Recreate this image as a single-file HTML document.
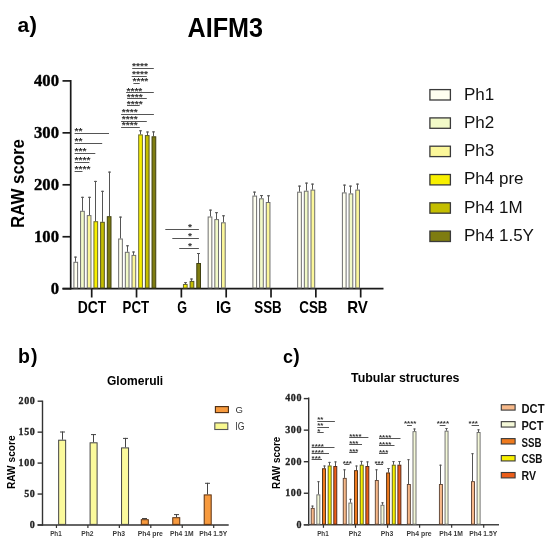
<!DOCTYPE html>
<html><head><meta charset="utf-8"><title>AIFM3</title>
<style>
html,body{margin:0;padding:0;background:#fff;}
body{width:550px;height:546px;overflow:hidden;}
svg{display:block;font-family:"Liberation Sans", sans-serif;}
</style></head><body>
<svg width="550" height="546" viewBox="0 0 550 546">
<rect x="0" y="0" width="550" height="546" fill="#fff"/>
<text x="17.6" y="32.0" font-weight="bold"><tspan font-size="21">a</tspan><tspan font-size="22.5" dx="0.3">)</tspan></text>
<text x="187.50" y="37.30" font-size="27.5" font-weight="bold" text-anchor="start" fill="#000" textLength="75.50" lengthAdjust="spacingAndGlyphs" >AIFM3</text>
<line x1="70.70" y1="80.00" x2="70.70" y2="289.50" stroke="#1a1a1a" stroke-width="1.7"/>
<line x1="62.50" y1="288.70" x2="70.70" y2="288.70" stroke="#1a1a1a" stroke-width="1.7"/>
<text transform="translate(59.00,293.90) scale(1.04,1.0)" x="0" y="0" font-size="16" font-weight="bold" text-anchor="end" fill="#000" font-family="'Liberation Serif', serif" stroke="#000" stroke-width="0.35">0</text>
<line x1="62.50" y1="236.75" x2="70.70" y2="236.75" stroke="#1a1a1a" stroke-width="1.7"/>
<text transform="translate(59.00,241.95) scale(1.04,1.0)" x="0" y="0" font-size="16" font-weight="bold" text-anchor="end" fill="#000" font-family="'Liberation Serif', serif" stroke="#000" stroke-width="0.35">100</text>
<line x1="62.50" y1="184.80" x2="70.70" y2="184.80" stroke="#1a1a1a" stroke-width="1.7"/>
<text transform="translate(59.00,190.00) scale(1.04,1.0)" x="0" y="0" font-size="16" font-weight="bold" text-anchor="end" fill="#000" font-family="'Liberation Serif', serif" stroke="#000" stroke-width="0.35">200</text>
<line x1="62.50" y1="132.85" x2="70.70" y2="132.85" stroke="#1a1a1a" stroke-width="1.7"/>
<text transform="translate(59.00,138.05) scale(1.04,1.0)" x="0" y="0" font-size="16" font-weight="bold" text-anchor="end" fill="#000" font-family="'Liberation Serif', serif" stroke="#000" stroke-width="0.35">300</text>
<line x1="62.50" y1="80.90" x2="70.70" y2="80.90" stroke="#1a1a1a" stroke-width="1.7"/>
<text transform="translate(59.00,86.10) scale(1.04,1.0)" x="0" y="0" font-size="16" font-weight="bold" text-anchor="end" fill="#000" font-family="'Liberation Serif', serif" stroke="#000" stroke-width="0.35">400</text>
<line x1="62.50" y1="288.70" x2="383.50" y2="288.70" stroke="#1a1a1a" stroke-width="1.7"/>
<line x1="91.70" y1="288.70" x2="91.70" y2="297.50" stroke="#1a1a1a" stroke-width="1.7"/>
<text x="92.00" y="312.70" font-size="17" font-weight="bold" text-anchor="middle" fill="#000" textLength="28.60" lengthAdjust="spacingAndGlyphs" >DCT</text>
<line x1="136.53" y1="288.70" x2="136.53" y2="297.50" stroke="#1a1a1a" stroke-width="1.7"/>
<text x="135.80" y="312.70" font-size="17" font-weight="bold" text-anchor="middle" fill="#000" textLength="26.50" lengthAdjust="spacingAndGlyphs" >PCT</text>
<line x1="181.36" y1="288.70" x2="181.36" y2="297.50" stroke="#1a1a1a" stroke-width="1.7"/>
<text x="182.20" y="312.70" font-size="17" font-weight="bold" text-anchor="middle" fill="#000" textLength="9.80" lengthAdjust="spacingAndGlyphs" >G</text>
<line x1="226.19" y1="288.70" x2="226.19" y2="297.50" stroke="#1a1a1a" stroke-width="1.7"/>
<text x="223.60" y="312.70" font-size="17" font-weight="bold" text-anchor="middle" fill="#000" textLength="15.40" lengthAdjust="spacingAndGlyphs" >IG</text>
<line x1="271.02" y1="288.70" x2="271.02" y2="297.50" stroke="#1a1a1a" stroke-width="1.7"/>
<text x="268.00" y="312.70" font-size="17" font-weight="bold" text-anchor="middle" fill="#000" textLength="27.50" lengthAdjust="spacingAndGlyphs" >SSB</text>
<line x1="315.85" y1="288.70" x2="315.85" y2="297.50" stroke="#1a1a1a" stroke-width="1.7"/>
<text x="313.40" y="312.70" font-size="17" font-weight="bold" text-anchor="middle" fill="#000" textLength="28.20" lengthAdjust="spacingAndGlyphs" >CSB</text>
<line x1="360.68" y1="288.70" x2="360.68" y2="297.50" stroke="#1a1a1a" stroke-width="1.7"/>
<text x="357.50" y="312.70" font-size="17" font-weight="bold" text-anchor="middle" fill="#000" textLength="20.70" lengthAdjust="spacingAndGlyphs" >RV</text>
<text transform="translate(23.8,183.5) rotate(-90)" x="0" y="0" font-size="17.5" font-weight="bold" text-anchor="middle" textLength="89" lengthAdjust="spacingAndGlyphs">RAW score</text>
<line x1="75.50" y1="261.80" x2="75.50" y2="256.60" stroke="#555" stroke-width="1.0"/>
<line x1="74.00" y1="257.10" x2="77.00" y2="257.10" stroke="#555" stroke-width="1.0"/>
<rect x="73.90" y="262.30" width="3.70" height="25.60" fill="#fffff0" stroke="#6e6e6e" stroke-width="1.0"/>
<line x1="82.50" y1="210.80" x2="82.50" y2="196.80" stroke="#555" stroke-width="1.0"/>
<line x1="81.00" y1="197.30" x2="84.00" y2="197.30" stroke="#555" stroke-width="1.0"/>
<rect x="80.58" y="211.30" width="3.70" height="76.60" fill="#f2fac8" stroke="#6e6e6e" stroke-width="1.0"/>
<line x1="89.50" y1="215.10" x2="89.50" y2="196.80" stroke="#555" stroke-width="1.0"/>
<line x1="88.00" y1="197.30" x2="91.00" y2="197.30" stroke="#555" stroke-width="1.0"/>
<rect x="87.26" y="215.60" width="3.70" height="72.30" fill="#fbf79a" stroke="#6e6e6e" stroke-width="1.0"/>
<line x1="95.50" y1="221.20" x2="95.50" y2="180.90" stroke="#555" stroke-width="1.0"/>
<line x1="94.00" y1="181.40" x2="97.00" y2="181.40" stroke="#555" stroke-width="1.0"/>
<rect x="93.94" y="221.70" width="3.70" height="66.20" fill="#f8f000" stroke="#6a6a30" stroke-width="1.0"/>
<line x1="102.50" y1="221.80" x2="102.50" y2="190.80" stroke="#555" stroke-width="1.0"/>
<line x1="101.00" y1="191.30" x2="104.00" y2="191.30" stroke="#555" stroke-width="1.0"/>
<rect x="100.62" y="222.30" width="3.70" height="65.60" fill="#c4be00" stroke="#555520" stroke-width="1.0"/>
<line x1="109.50" y1="216.20" x2="109.50" y2="171.60" stroke="#555" stroke-width="1.0"/>
<line x1="108.00" y1="172.10" x2="111.00" y2="172.10" stroke="#555" stroke-width="1.0"/>
<rect x="107.30" y="216.70" width="3.70" height="71.20" fill="#7e7c10" stroke="#404010" stroke-width="1.0"/>
<line x1="120.50" y1="238.50" x2="120.50" y2="216.60" stroke="#555" stroke-width="1.0"/>
<line x1="119.00" y1="217.10" x2="122.00" y2="217.10" stroke="#555" stroke-width="1.0"/>
<rect x="118.65" y="239.00" width="3.70" height="48.90" fill="#fffff0" stroke="#6e6e6e" stroke-width="1.0"/>
<line x1="127.50" y1="251.80" x2="127.50" y2="245.30" stroke="#555" stroke-width="1.0"/>
<line x1="126.00" y1="245.80" x2="129.00" y2="245.80" stroke="#555" stroke-width="1.0"/>
<rect x="125.33" y="252.30" width="3.70" height="35.60" fill="#f2fac8" stroke="#6e6e6e" stroke-width="1.0"/>
<line x1="133.50" y1="254.90" x2="133.50" y2="251.50" stroke="#555" stroke-width="1.0"/>
<line x1="132.00" y1="252.00" x2="135.00" y2="252.00" stroke="#555" stroke-width="1.0"/>
<rect x="132.01" y="255.40" width="3.70" height="32.50" fill="#fbf79a" stroke="#6e6e6e" stroke-width="1.0"/>
<line x1="140.50" y1="134.40" x2="140.50" y2="130.30" stroke="#555" stroke-width="1.0"/>
<line x1="139.00" y1="130.80" x2="142.00" y2="130.80" stroke="#555" stroke-width="1.0"/>
<rect x="138.69" y="134.90" width="3.70" height="153.00" fill="#f8f000" stroke="#6a6a30" stroke-width="1.0"/>
<line x1="147.50" y1="135.10" x2="147.50" y2="131.50" stroke="#555" stroke-width="1.0"/>
<line x1="146.00" y1="132.00" x2="149.00" y2="132.00" stroke="#555" stroke-width="1.0"/>
<rect x="145.37" y="135.60" width="3.70" height="152.30" fill="#c4be00" stroke="#555520" stroke-width="1.0"/>
<line x1="153.50" y1="136.30" x2="153.50" y2="131.40" stroke="#555" stroke-width="1.0"/>
<line x1="152.00" y1="131.90" x2="155.00" y2="131.90" stroke="#555" stroke-width="1.0"/>
<rect x="152.05" y="136.80" width="3.70" height="151.10" fill="#7e7c10" stroke="#404010" stroke-width="1.0"/>
<line x1="185.50" y1="284.00" x2="185.50" y2="282.20" stroke="#555" stroke-width="1.0"/>
<line x1="184.00" y1="282.70" x2="187.00" y2="282.70" stroke="#555" stroke-width="1.0"/>
<rect x="183.44" y="284.50" width="3.70" height="3.40" fill="#f8f000" stroke="#6a6a30" stroke-width="1.0"/>
<line x1="191.50" y1="280.90" x2="191.50" y2="278.50" stroke="#555" stroke-width="1.0"/>
<line x1="190.00" y1="279.00" x2="193.00" y2="279.00" stroke="#555" stroke-width="1.0"/>
<rect x="190.12" y="281.40" width="3.70" height="6.50" fill="#c4be00" stroke="#555520" stroke-width="1.0"/>
<line x1="198.50" y1="263.00" x2="198.50" y2="253.00" stroke="#555" stroke-width="1.0"/>
<line x1="197.00" y1="253.50" x2="200.00" y2="253.50" stroke="#555" stroke-width="1.0"/>
<rect x="196.80" y="263.50" width="3.70" height="24.40" fill="#7e7c10" stroke="#404010" stroke-width="1.0"/>
<line x1="210.50" y1="216.50" x2="210.50" y2="209.60" stroke="#555" stroke-width="1.0"/>
<line x1="209.00" y1="210.10" x2="212.00" y2="210.10" stroke="#555" stroke-width="1.0"/>
<rect x="208.15" y="217.00" width="3.70" height="70.90" fill="#fffff0" stroke="#6e6e6e" stroke-width="1.0"/>
<line x1="216.50" y1="219.10" x2="216.50" y2="212.20" stroke="#555" stroke-width="1.0"/>
<line x1="215.00" y1="212.70" x2="218.00" y2="212.70" stroke="#555" stroke-width="1.0"/>
<rect x="214.83" y="219.60" width="3.70" height="68.30" fill="#f2fac8" stroke="#6e6e6e" stroke-width="1.0"/>
<line x1="223.50" y1="222.30" x2="223.50" y2="215.30" stroke="#555" stroke-width="1.0"/>
<line x1="222.00" y1="215.80" x2="225.00" y2="215.80" stroke="#555" stroke-width="1.0"/>
<rect x="221.51" y="222.80" width="3.70" height="65.10" fill="#fbf79a" stroke="#6e6e6e" stroke-width="1.0"/>
<line x1="254.50" y1="195.60" x2="254.50" y2="191.60" stroke="#555" stroke-width="1.0"/>
<line x1="253.00" y1="192.10" x2="256.00" y2="192.10" stroke="#555" stroke-width="1.0"/>
<rect x="252.90" y="196.10" width="3.70" height="91.80" fill="#fffff0" stroke="#6e6e6e" stroke-width="1.0"/>
<line x1="261.50" y1="198.30" x2="261.50" y2="195.10" stroke="#555" stroke-width="1.0"/>
<line x1="260.00" y1="195.60" x2="263.00" y2="195.60" stroke="#555" stroke-width="1.0"/>
<rect x="259.58" y="198.80" width="3.70" height="89.10" fill="#f2fac8" stroke="#6e6e6e" stroke-width="1.0"/>
<line x1="268.50" y1="202.00" x2="268.50" y2="195.30" stroke="#555" stroke-width="1.0"/>
<line x1="267.00" y1="195.80" x2="270.00" y2="195.80" stroke="#555" stroke-width="1.0"/>
<rect x="266.26" y="202.50" width="3.70" height="85.40" fill="#fbf79a" stroke="#6e6e6e" stroke-width="1.0"/>
<line x1="299.50" y1="191.70" x2="299.50" y2="185.60" stroke="#555" stroke-width="1.0"/>
<line x1="298.00" y1="186.10" x2="301.00" y2="186.10" stroke="#555" stroke-width="1.0"/>
<rect x="297.65" y="192.20" width="3.70" height="95.70" fill="#fffff0" stroke="#6e6e6e" stroke-width="1.0"/>
<line x1="306.50" y1="190.70" x2="306.50" y2="182.60" stroke="#555" stroke-width="1.0"/>
<line x1="305.00" y1="183.10" x2="308.00" y2="183.10" stroke="#555" stroke-width="1.0"/>
<rect x="304.33" y="191.20" width="3.70" height="96.70" fill="#f2fac8" stroke="#6e6e6e" stroke-width="1.0"/>
<line x1="312.50" y1="189.60" x2="312.50" y2="183.60" stroke="#555" stroke-width="1.0"/>
<line x1="311.00" y1="184.10" x2="314.00" y2="184.10" stroke="#555" stroke-width="1.0"/>
<rect x="311.01" y="190.10" width="3.70" height="97.80" fill="#fbf79a" stroke="#6e6e6e" stroke-width="1.0"/>
<line x1="344.50" y1="192.40" x2="344.50" y2="184.60" stroke="#555" stroke-width="1.0"/>
<line x1="343.00" y1="185.10" x2="346.00" y2="185.10" stroke="#555" stroke-width="1.0"/>
<rect x="342.40" y="192.90" width="3.70" height="95.00" fill="#fffff0" stroke="#6e6e6e" stroke-width="1.0"/>
<line x1="350.50" y1="193.40" x2="350.50" y2="185.60" stroke="#555" stroke-width="1.0"/>
<line x1="349.00" y1="186.10" x2="352.00" y2="186.10" stroke="#555" stroke-width="1.0"/>
<rect x="349.08" y="193.90" width="3.70" height="94.00" fill="#f2fac8" stroke="#6e6e6e" stroke-width="1.0"/>
<line x1="357.50" y1="189.60" x2="357.50" y2="183.60" stroke="#555" stroke-width="1.0"/>
<line x1="356.00" y1="184.10" x2="359.00" y2="184.10" stroke="#555" stroke-width="1.0"/>
<rect x="355.76" y="190.10" width="3.70" height="97.80" fill="#fbf79a" stroke="#6e6e6e" stroke-width="1.0"/>
<line x1="74.60" y1="133.50" x2="109.00" y2="133.50" stroke="#555" stroke-width="1.0"/>
<text transform="translate(74.60,134.00) scale(1.14,1.0)" x="0" y="0" font-size="9" font-weight="bold" text-anchor="start" fill="#333" >**</text>
<line x1="74.60" y1="143.50" x2="102.20" y2="143.50" stroke="#555" stroke-width="1.0"/>
<text transform="translate(74.60,144.00) scale(1.14,1.0)" x="0" y="0" font-size="9" font-weight="bold" text-anchor="start" fill="#333" >**</text>
<line x1="74.60" y1="153.50" x2="95.30" y2="153.50" stroke="#555" stroke-width="1.0"/>
<text transform="translate(74.60,154.00) scale(1.14,1.0)" x="0" y="0" font-size="9" font-weight="bold" text-anchor="start" fill="#333" >***</text>
<line x1="74.60" y1="162.50" x2="89.40" y2="162.50" stroke="#555" stroke-width="1.0"/>
<text transform="translate(74.60,163.00) scale(1.14,1.0)" x="0" y="0" font-size="9" font-weight="bold" text-anchor="start" fill="#333" >****</text>
<line x1="74.60" y1="171.50" x2="82.50" y2="171.50" stroke="#555" stroke-width="1.0"/>
<text transform="translate(74.60,172.00) scale(1.14,1.0)" x="0" y="0" font-size="9" font-weight="bold" text-anchor="start" fill="#333" >****</text>
<line x1="132.20" y1="68.50" x2="153.80" y2="68.50" stroke="#555" stroke-width="1.0"/>
<text transform="translate(132.00,69.00) scale(1.14,1.0)" x="0" y="0" font-size="9" font-weight="bold" text-anchor="start" fill="#333" >****</text>
<line x1="131.70" y1="76.50" x2="146.80" y2="76.50" stroke="#555" stroke-width="1.0"/>
<text transform="translate(132.00,77.00) scale(1.14,1.0)" x="0" y="0" font-size="9" font-weight="bold" text-anchor="start" fill="#333" >****</text>
<line x1="133.40" y1="83.50" x2="139.70" y2="83.50" stroke="#555" stroke-width="1.0"/>
<text transform="translate(132.40,84.00) scale(1.14,1.0)" x="0" y="0" font-size="9" font-weight="bold" text-anchor="start" fill="#333" >****</text>
<line x1="126.10" y1="92.50" x2="153.80" y2="92.50" stroke="#555" stroke-width="1.0"/>
<text transform="translate(126.40,94.00) scale(1.14,1.0)" x="0" y="0" font-size="9" font-weight="bold" text-anchor="start" fill="#333" >****</text>
<line x1="127.10" y1="98.50" x2="146.80" y2="98.50" stroke="#555" stroke-width="1.0"/>
<text transform="translate(126.80,100.00) scale(1.14,1.0)" x="0" y="0" font-size="9" font-weight="bold" text-anchor="start" fill="#333" >****</text>
<line x1="127.00" y1="105.50" x2="139.70" y2="105.50" stroke="#555" stroke-width="1.0"/>
<text transform="translate(126.80,107.00) scale(1.14,1.0)" x="0" y="0" font-size="9" font-weight="bold" text-anchor="start" fill="#333" >****</text>
<line x1="121.10" y1="114.50" x2="153.90" y2="114.50" stroke="#555" stroke-width="1.0"/>
<text transform="translate(121.80,115.00) scale(1.14,1.0)" x="0" y="0" font-size="9" font-weight="bold" text-anchor="start" fill="#333" >****</text>
<line x1="121.10" y1="121.50" x2="146.80" y2="121.50" stroke="#555" stroke-width="1.0"/>
<text transform="translate(121.80,122.00) scale(1.14,1.0)" x="0" y="0" font-size="9" font-weight="bold" text-anchor="start" fill="#333" >****</text>
<line x1="121.10" y1="127.50" x2="139.80" y2="127.50" stroke="#555" stroke-width="1.0"/>
<text transform="translate(121.80,128.00) scale(1.14,1.0)" x="0" y="0" font-size="9" font-weight="bold" text-anchor="start" fill="#333" >****</text>
<line x1="165.30" y1="229.50" x2="198.90" y2="229.50" stroke="#555" stroke-width="1.0"/>
<text transform="translate(189.90,230.00) scale(1.14,1.0)" x="0" y="0" font-size="9" font-weight="bold" text-anchor="middle" fill="#333" >*</text>
<line x1="172.30" y1="238.50" x2="198.90" y2="238.50" stroke="#555" stroke-width="1.0"/>
<text transform="translate(189.90,239.00) scale(1.14,1.0)" x="0" y="0" font-size="9" font-weight="bold" text-anchor="middle" fill="#333" >*</text>
<line x1="179.20" y1="248.50" x2="198.90" y2="248.50" stroke="#555" stroke-width="1.0"/>
<text transform="translate(189.90,249.00) scale(1.14,1.0)" x="0" y="0" font-size="9" font-weight="bold" text-anchor="middle" fill="#333" >*</text>
<rect x="429.90" y="89.60" width="20.50" height="10.40" fill="#fffff0" stroke="#3a3a3a" stroke-width="1.3"/>
<text x="464.00" y="100.30" font-size="17" font-weight="normal" text-anchor="start" fill="#111" >Ph1</text>
<rect x="429.90" y="117.90" width="20.50" height="10.40" fill="#f2fac8" stroke="#3a3a3a" stroke-width="1.3"/>
<text x="464.00" y="128.36" font-size="17" font-weight="normal" text-anchor="start" fill="#111" >Ph2</text>
<rect x="429.90" y="146.20" width="20.50" height="10.40" fill="#fbf79a" stroke="#3a3a3a" stroke-width="1.3"/>
<text x="464.00" y="156.42" font-size="17" font-weight="normal" text-anchor="start" fill="#111" >Ph3</text>
<rect x="429.90" y="174.50" width="20.50" height="10.40" fill="#f8f000" stroke="#3a3a3a" stroke-width="1.3"/>
<text x="464.00" y="184.48" font-size="17" font-weight="normal" text-anchor="start" fill="#111" >Ph4 pre</text>
<rect x="429.90" y="202.80" width="20.50" height="10.40" fill="#c4be00" stroke="#3a3a3a" stroke-width="1.3"/>
<text x="464.00" y="212.54" font-size="17" font-weight="normal" text-anchor="start" fill="#111" >Ph4 1M</text>
<rect x="429.90" y="231.10" width="20.50" height="10.40" fill="#7e7c10" stroke="#3a3a3a" stroke-width="1.3"/>
<text x="464.00" y="240.60" font-size="17" font-weight="normal" text-anchor="start" fill="#111" >Ph4 1.5Y</text>
<text x="18.0" y="363.0" font-weight="bold"><tspan font-size="19.5">b</tspan><tspan font-size="19.5" dx="1.0">)</tspan></text>
<text x="107.00" y="384.60" font-size="12" font-weight="bold" text-anchor="start" fill="#000" textLength="56.20" lengthAdjust="spacingAndGlyphs" >Glomeruli</text>
<line x1="42.50" y1="400.60" x2="42.50" y2="525.70" stroke="#333" stroke-width="1.4"/>
<line x1="37.60" y1="525.00" x2="42.50" y2="525.00" stroke="#333" stroke-width="1.4"/>
<text x="35.40" y="527.80" font-size="10" font-weight="bold" text-anchor="end" fill="#222" font-family="'Liberation Serif', serif" stroke="#222" stroke-width="0.3" letter-spacing="0.6">0</text>
<line x1="37.60" y1="494.05" x2="42.50" y2="494.05" stroke="#333" stroke-width="1.4"/>
<text x="35.40" y="496.85" font-size="10" font-weight="bold" text-anchor="end" fill="#222" font-family="'Liberation Serif', serif" stroke="#222" stroke-width="0.3" letter-spacing="0.6">50</text>
<line x1="37.60" y1="463.10" x2="42.50" y2="463.10" stroke="#333" stroke-width="1.4"/>
<text x="35.40" y="465.90" font-size="10" font-weight="bold" text-anchor="end" fill="#222" font-family="'Liberation Serif', serif" stroke="#222" stroke-width="0.3" letter-spacing="0.6">100</text>
<line x1="37.60" y1="432.15" x2="42.50" y2="432.15" stroke="#333" stroke-width="1.4"/>
<text x="35.40" y="434.95" font-size="10" font-weight="bold" text-anchor="end" fill="#222" font-family="'Liberation Serif', serif" stroke="#222" stroke-width="0.3" letter-spacing="0.6">150</text>
<line x1="37.60" y1="401.20" x2="42.50" y2="401.20" stroke="#333" stroke-width="1.4"/>
<text x="35.40" y="404.00" font-size="10" font-weight="bold" text-anchor="end" fill="#222" font-family="'Liberation Serif', serif" stroke="#222" stroke-width="0.3" letter-spacing="0.6">200</text>
<line x1="37.60" y1="525.00" x2="228.70" y2="525.00" stroke="#333" stroke-width="1.6"/>
<line x1="56.45" y1="525.00" x2="56.45" y2="528.00" stroke="#333" stroke-width="1.2"/>
<text x="55.95" y="535.80" font-size="7.2" font-weight="bold" text-anchor="middle" fill="#3a3a3a" textLength="11.60" lengthAdjust="spacingAndGlyphs" >Ph1</text>
<line x1="87.90" y1="525.00" x2="87.90" y2="528.00" stroke="#333" stroke-width="1.2"/>
<text x="87.40" y="535.80" font-size="7.2" font-weight="bold" text-anchor="middle" fill="#3a3a3a" textLength="12.30" lengthAdjust="spacingAndGlyphs" >Ph2</text>
<line x1="119.35" y1="525.00" x2="119.35" y2="528.00" stroke="#333" stroke-width="1.2"/>
<text x="118.85" y="535.80" font-size="7.2" font-weight="bold" text-anchor="middle" fill="#3a3a3a" textLength="12.50" lengthAdjust="spacingAndGlyphs" >Ph3</text>
<line x1="150.80" y1="525.00" x2="150.80" y2="528.00" stroke="#333" stroke-width="1.2"/>
<text x="150.30" y="535.80" font-size="7.2" font-weight="bold" text-anchor="middle" fill="#3a3a3a" textLength="25.20" lengthAdjust="spacingAndGlyphs" >Ph4 pre</text>
<line x1="182.25" y1="525.00" x2="182.25" y2="528.00" stroke="#333" stroke-width="1.2"/>
<text x="181.75" y="535.80" font-size="7.2" font-weight="bold" text-anchor="middle" fill="#3a3a3a" textLength="23.60" lengthAdjust="spacingAndGlyphs" >Ph4 1M</text>
<line x1="213.70" y1="525.00" x2="213.70" y2="528.00" stroke="#333" stroke-width="1.2"/>
<text x="213.20" y="535.80" font-size="7.2" font-weight="bold" text-anchor="middle" fill="#3a3a3a" textLength="28.00" lengthAdjust="spacingAndGlyphs" >Ph4 1.5Y</text>
<text transform="translate(14.8,462.2) rotate(-90)" x="0" y="0" font-size="10.3" font-weight="bold" text-anchor="middle" textLength="53.5" lengthAdjust="spacingAndGlyphs">RAW score</text>
<line x1="62.50" y1="439.70" x2="62.50" y2="431.50" stroke="#444" stroke-width="1.0"/>
<line x1="60.00" y1="432.00" x2="65.00" y2="432.00" stroke="#444" stroke-width="1.0"/>
<rect x="58.65" y="440.20" width="7.00" height="84.20" fill="#fbfa9c" stroke="#444" stroke-width="1.0"/>
<line x1="93.50" y1="442.30" x2="93.50" y2="434.10" stroke="#444" stroke-width="1.0"/>
<line x1="91.00" y1="434.60" x2="96.00" y2="434.60" stroke="#444" stroke-width="1.0"/>
<rect x="90.10" y="442.80" width="7.00" height="81.60" fill="#fbfa9c" stroke="#444" stroke-width="1.0"/>
<line x1="125.50" y1="447.40" x2="125.50" y2="437.90" stroke="#444" stroke-width="1.0"/>
<line x1="123.00" y1="438.40" x2="128.00" y2="438.40" stroke="#444" stroke-width="1.0"/>
<rect x="121.55" y="447.90" width="7.00" height="76.50" fill="#fbfa9c" stroke="#444" stroke-width="1.0"/>
<line x1="144.50" y1="519.20" x2="144.50" y2="518.00" stroke="#444" stroke-width="1.0"/>
<line x1="142.00" y1="518.50" x2="147.00" y2="518.50" stroke="#444" stroke-width="1.0"/>
<rect x="141.30" y="519.70" width="7.00" height="4.70" fill="#f79a3e" stroke="#5a3010" stroke-width="1.0"/>
<line x1="176.50" y1="517.20" x2="176.50" y2="514.10" stroke="#444" stroke-width="1.0"/>
<line x1="174.00" y1="514.60" x2="179.00" y2="514.60" stroke="#444" stroke-width="1.0"/>
<rect x="172.75" y="517.70" width="7.00" height="6.70" fill="#f79a3e" stroke="#5a3010" stroke-width="1.0"/>
<line x1="207.50" y1="494.40" x2="207.50" y2="482.80" stroke="#444" stroke-width="1.0"/>
<line x1="205.00" y1="483.30" x2="210.00" y2="483.30" stroke="#444" stroke-width="1.0"/>
<rect x="204.20" y="494.90" width="7.00" height="29.50" fill="#f79a3e" stroke="#5a3010" stroke-width="1.0"/>
<rect x="215.40" y="406.60" width="13.00" height="6.00" fill="#f79a3e" stroke="#4a2a10" stroke-width="1.1"/>
<rect x="214.80" y="422.90" width="13.00" height="6.60" fill="#f8f890" stroke="#555" stroke-width="1.1"/>
<text x="235.60" y="412.90" font-size="9.5" font-weight="normal" text-anchor="start" fill="#333" >G</text>
<text x="235.30" y="429.60" font-size="10.5" font-weight="normal" text-anchor="start" fill="#333" textLength="9.20" lengthAdjust="spacingAndGlyphs" >IG</text>
<text x="283.0" y="363.2" font-weight="bold"><tspan font-size="18">c</tspan><tspan font-size="19.5" dx="0.2">)</tspan></text>
<text x="351.00" y="382.00" font-size="12" font-weight="bold" text-anchor="start" fill="#000" textLength="108.40" lengthAdjust="spacingAndGlyphs" >Tubular structures</text>
<line x1="308.70" y1="397.60" x2="308.70" y2="525.50" stroke="#333" stroke-width="1.4"/>
<line x1="303.80" y1="524.80" x2="308.70" y2="524.80" stroke="#333" stroke-width="1.4"/>
<text x="302.00" y="527.60" font-size="10" font-weight="bold" text-anchor="end" fill="#222" font-family="'Liberation Serif', serif" stroke="#222" stroke-width="0.3" letter-spacing="0.6">0</text>
<line x1="303.80" y1="493.25" x2="308.70" y2="493.25" stroke="#333" stroke-width="1.4"/>
<text x="302.00" y="496.05" font-size="10" font-weight="bold" text-anchor="end" fill="#222" font-family="'Liberation Serif', serif" stroke="#222" stroke-width="0.3" letter-spacing="0.6">100</text>
<line x1="303.80" y1="461.70" x2="308.70" y2="461.70" stroke="#333" stroke-width="1.4"/>
<text x="302.00" y="464.50" font-size="10" font-weight="bold" text-anchor="end" fill="#222" font-family="'Liberation Serif', serif" stroke="#222" stroke-width="0.3" letter-spacing="0.6">200</text>
<line x1="303.80" y1="430.15" x2="308.70" y2="430.15" stroke="#333" stroke-width="1.4"/>
<text x="302.00" y="432.95" font-size="10" font-weight="bold" text-anchor="end" fill="#222" font-family="'Liberation Serif', serif" stroke="#222" stroke-width="0.3" letter-spacing="0.6">300</text>
<line x1="303.80" y1="398.60" x2="308.70" y2="398.60" stroke="#333" stroke-width="1.4"/>
<text x="302.00" y="401.40" font-size="10" font-weight="bold" text-anchor="end" fill="#222" font-family="'Liberation Serif', serif" stroke="#222" stroke-width="0.3" letter-spacing="0.6">400</text>
<line x1="303.80" y1="524.80" x2="499.00" y2="524.80" stroke="#444" stroke-width="1.6"/>
<line x1="323.45" y1="524.80" x2="323.45" y2="527.80" stroke="#333" stroke-width="1.2"/>
<text x="322.95" y="535.80" font-size="7.2" font-weight="bold" text-anchor="middle" fill="#3a3a3a" textLength="11.60" lengthAdjust="spacingAndGlyphs" >Ph1</text>
<line x1="355.50" y1="524.80" x2="355.50" y2="527.80" stroke="#333" stroke-width="1.2"/>
<text x="355.00" y="535.80" font-size="7.2" font-weight="bold" text-anchor="middle" fill="#3a3a3a" textLength="12.30" lengthAdjust="spacingAndGlyphs" >Ph2</text>
<line x1="387.55" y1="524.80" x2="387.55" y2="527.80" stroke="#333" stroke-width="1.2"/>
<text x="387.05" y="535.80" font-size="7.2" font-weight="bold" text-anchor="middle" fill="#3a3a3a" textLength="12.50" lengthAdjust="spacingAndGlyphs" >Ph3</text>
<line x1="419.60" y1="524.80" x2="419.60" y2="527.80" stroke="#333" stroke-width="1.2"/>
<text x="419.10" y="535.80" font-size="7.2" font-weight="bold" text-anchor="middle" fill="#3a3a3a" textLength="25.20" lengthAdjust="spacingAndGlyphs" >Ph4 pre</text>
<line x1="451.65" y1="524.80" x2="451.65" y2="527.80" stroke="#333" stroke-width="1.2"/>
<text x="451.15" y="535.80" font-size="7.2" font-weight="bold" text-anchor="middle" fill="#3a3a3a" textLength="23.60" lengthAdjust="spacingAndGlyphs" >Ph4 1M</text>
<line x1="483.70" y1="524.80" x2="483.70" y2="527.80" stroke="#333" stroke-width="1.2"/>
<text x="483.20" y="535.80" font-size="7.2" font-weight="bold" text-anchor="middle" fill="#3a3a3a" textLength="28.00" lengthAdjust="spacingAndGlyphs" >Ph4 1.5Y</text>
<text transform="translate(280.4,462.8) rotate(-90)" x="0" y="0" font-size="10.3" font-weight="bold" text-anchor="middle" textLength="52.2" lengthAdjust="spacingAndGlyphs">RAW score</text>
<line x1="312.50" y1="507.90" x2="312.50" y2="505.60" stroke="#555" stroke-width="1.0"/>
<line x1="311.30" y1="506.10" x2="313.70" y2="506.10" stroke="#555" stroke-width="1.0"/>
<rect x="311.20" y="508.35" width="3.00" height="15.85" fill="#f7b98a" stroke="#5a4030" stroke-width="0.9"/>
<line x1="318.50" y1="494.40" x2="318.50" y2="481.20" stroke="#555" stroke-width="1.0"/>
<line x1="317.30" y1="481.70" x2="319.70" y2="481.70" stroke="#555" stroke-width="1.0"/>
<rect x="316.85" y="494.85" width="3.00" height="29.35" fill="#f4f8d8" stroke="#666" stroke-width="0.9"/>
<line x1="324.50" y1="468.30" x2="324.50" y2="465.50" stroke="#555" stroke-width="1.0"/>
<line x1="323.30" y1="466.00" x2="325.70" y2="466.00" stroke="#555" stroke-width="1.0"/>
<rect x="322.50" y="468.75" width="3.00" height="55.45" fill="#ee7a1e" stroke="#4a2a10" stroke-width="0.9"/>
<line x1="329.50" y1="465.50" x2="329.50" y2="461.90" stroke="#555" stroke-width="1.0"/>
<line x1="328.30" y1="462.40" x2="330.70" y2="462.40" stroke="#555" stroke-width="1.0"/>
<rect x="328.15" y="465.95" width="3.00" height="58.25" fill="#f8f000" stroke="#55551a" stroke-width="0.9"/>
<line x1="335.50" y1="466.00" x2="335.50" y2="461.40" stroke="#555" stroke-width="1.0"/>
<line x1="334.30" y1="461.90" x2="336.70" y2="461.90" stroke="#555" stroke-width="1.0"/>
<rect x="333.80" y="466.45" width="3.00" height="57.75" fill="#ec5e1a" stroke="#4a2210" stroke-width="0.9"/>
<line x1="344.50" y1="477.90" x2="344.50" y2="469.30" stroke="#555" stroke-width="1.0"/>
<line x1="343.30" y1="469.80" x2="345.70" y2="469.80" stroke="#555" stroke-width="1.0"/>
<rect x="343.25" y="478.35" width="3.00" height="45.85" fill="#f7b98a" stroke="#5a4030" stroke-width="0.9"/>
<line x1="350.50" y1="502.60" x2="350.50" y2="498.80" stroke="#555" stroke-width="1.0"/>
<line x1="349.30" y1="499.30" x2="351.70" y2="499.30" stroke="#555" stroke-width="1.0"/>
<rect x="348.90" y="503.05" width="3.00" height="21.15" fill="#f4f8d8" stroke="#666" stroke-width="0.9"/>
<line x1="356.50" y1="470.20" x2="356.50" y2="465.50" stroke="#555" stroke-width="1.0"/>
<line x1="355.30" y1="466.00" x2="357.70" y2="466.00" stroke="#555" stroke-width="1.0"/>
<rect x="354.55" y="470.65" width="3.00" height="53.55" fill="#ee7a1e" stroke="#4a2a10" stroke-width="0.9"/>
<line x1="361.50" y1="464.70" x2="361.50" y2="460.90" stroke="#555" stroke-width="1.0"/>
<line x1="360.30" y1="461.40" x2="362.70" y2="461.40" stroke="#555" stroke-width="1.0"/>
<rect x="360.20" y="465.15" width="3.00" height="59.05" fill="#f8f000" stroke="#55551a" stroke-width="0.9"/>
<line x1="367.50" y1="466.00" x2="367.50" y2="461.40" stroke="#555" stroke-width="1.0"/>
<line x1="366.30" y1="461.90" x2="368.70" y2="461.90" stroke="#555" stroke-width="1.0"/>
<rect x="365.85" y="466.45" width="3.00" height="57.75" fill="#ec5e1a" stroke="#4a2210" stroke-width="0.9"/>
<line x1="376.50" y1="480.00" x2="376.50" y2="469.30" stroke="#555" stroke-width="1.0"/>
<line x1="375.30" y1="469.80" x2="377.70" y2="469.80" stroke="#555" stroke-width="1.0"/>
<rect x="375.30" y="480.45" width="3.00" height="43.75" fill="#f7b98a" stroke="#5a4030" stroke-width="0.9"/>
<line x1="382.50" y1="504.80" x2="382.50" y2="502.30" stroke="#555" stroke-width="1.0"/>
<line x1="381.30" y1="502.80" x2="383.70" y2="502.80" stroke="#555" stroke-width="1.0"/>
<rect x="380.95" y="505.25" width="3.00" height="18.95" fill="#f4f8d8" stroke="#666" stroke-width="0.9"/>
<line x1="388.50" y1="472.50" x2="388.50" y2="468.00" stroke="#555" stroke-width="1.0"/>
<line x1="387.30" y1="468.50" x2="389.70" y2="468.50" stroke="#555" stroke-width="1.0"/>
<rect x="386.60" y="472.95" width="3.00" height="51.25" fill="#ee7a1e" stroke="#4a2a10" stroke-width="0.9"/>
<line x1="393.50" y1="464.70" x2="393.50" y2="461.10" stroke="#555" stroke-width="1.0"/>
<line x1="392.30" y1="461.60" x2="394.70" y2="461.60" stroke="#555" stroke-width="1.0"/>
<rect x="392.25" y="465.15" width="3.00" height="59.05" fill="#f8f000" stroke="#55551a" stroke-width="0.9"/>
<line x1="399.50" y1="464.70" x2="399.50" y2="461.00" stroke="#555" stroke-width="1.0"/>
<line x1="398.30" y1="461.50" x2="400.70" y2="461.50" stroke="#555" stroke-width="1.0"/>
<rect x="397.90" y="465.15" width="3.00" height="59.05" fill="#ec5e1a" stroke="#4a2210" stroke-width="0.9"/>
<line x1="408.50" y1="484.00" x2="408.50" y2="459.20" stroke="#555" stroke-width="1.0"/>
<line x1="407.30" y1="459.70" x2="409.70" y2="459.70" stroke="#555" stroke-width="1.0"/>
<rect x="407.35" y="484.45" width="3.00" height="39.75" fill="#f7b98a" stroke="#5a4030" stroke-width="0.9"/>
<line x1="414.50" y1="431.20" x2="414.50" y2="428.50" stroke="#555" stroke-width="1.0"/>
<line x1="413.30" y1="429.00" x2="415.70" y2="429.00" stroke="#555" stroke-width="1.0"/>
<rect x="413.00" y="431.65" width="3.00" height="92.55" fill="#f4f8d8" stroke="#666" stroke-width="0.9"/>
<line x1="440.50" y1="484.00" x2="440.50" y2="464.70" stroke="#555" stroke-width="1.0"/>
<line x1="439.30" y1="465.20" x2="441.70" y2="465.20" stroke="#555" stroke-width="1.0"/>
<rect x="439.40" y="484.45" width="3.00" height="39.75" fill="#f7b98a" stroke="#5a4030" stroke-width="0.9"/>
<line x1="446.50" y1="430.70" x2="446.50" y2="428.00" stroke="#555" stroke-width="1.0"/>
<line x1="445.30" y1="428.50" x2="447.70" y2="428.50" stroke="#555" stroke-width="1.0"/>
<rect x="445.05" y="431.15" width="3.00" height="93.05" fill="#f4f8d8" stroke="#666" stroke-width="0.9"/>
<line x1="472.50" y1="481.20" x2="472.50" y2="453.20" stroke="#555" stroke-width="1.0"/>
<line x1="471.30" y1="453.70" x2="473.70" y2="453.70" stroke="#555" stroke-width="1.0"/>
<rect x="471.45" y="481.65" width="3.00" height="42.55" fill="#f7b98a" stroke="#5a4030" stroke-width="0.9"/>
<line x1="478.50" y1="432.00" x2="478.50" y2="429.30" stroke="#555" stroke-width="1.0"/>
<line x1="477.30" y1="429.80" x2="479.70" y2="429.80" stroke="#555" stroke-width="1.0"/>
<rect x="477.10" y="432.45" width="3.00" height="91.75" fill="#f4f8d8" stroke="#666" stroke-width="0.9"/>
<line x1="317.30" y1="421.50" x2="334.90" y2="421.50" stroke="#555" stroke-width="1.0"/>
<text transform="translate(317.30,422.00) scale(1.13,1.0)" x="0" y="0" font-size="7" font-weight="bold" text-anchor="start" fill="#333" >**</text>
<line x1="317.30" y1="427.50" x2="329.00" y2="427.50" stroke="#555" stroke-width="1.0"/>
<text transform="translate(317.30,428.00) scale(1.13,1.0)" x="0" y="0" font-size="7" font-weight="bold" text-anchor="start" fill="#333" >**</text>
<line x1="317.30" y1="432.50" x2="323.70" y2="432.50" stroke="#555" stroke-width="1.0"/>
<text transform="translate(317.30,434.00) scale(1.13,1.0)" x="0" y="0" font-size="7" font-weight="bold" text-anchor="start" fill="#333" >*</text>
<line x1="311.60" y1="447.50" x2="334.50" y2="447.50" stroke="#555" stroke-width="1.0"/>
<text transform="translate(311.60,449.00) scale(1.13,1.0)" x="0" y="0" font-size="7" font-weight="bold" text-anchor="start" fill="#333" >****</text>
<line x1="311.60" y1="453.50" x2="329.00" y2="453.50" stroke="#555" stroke-width="1.0"/>
<text transform="translate(311.60,455.00) scale(1.13,1.0)" x="0" y="0" font-size="7" font-weight="bold" text-anchor="start" fill="#333" >****</text>
<line x1="311.60" y1="459.50" x2="322.00" y2="459.50" stroke="#555" stroke-width="1.0"/>
<text transform="translate(311.60,461.00) scale(1.13,1.0)" x="0" y="0" font-size="7" font-weight="bold" text-anchor="start" fill="#333" >***</text>
<line x1="349.20" y1="437.50" x2="368.40" y2="437.50" stroke="#555" stroke-width="1.0"/>
<text transform="translate(349.20,439.00) scale(1.13,1.0)" x="0" y="0" font-size="7" font-weight="bold" text-anchor="start" fill="#333" >****</text>
<line x1="349.20" y1="444.50" x2="362.00" y2="444.50" stroke="#555" stroke-width="1.0"/>
<text transform="translate(349.20,446.00) scale(1.13,1.0)" x="0" y="0" font-size="7" font-weight="bold" text-anchor="start" fill="#333" >***</text>
<line x1="349.20" y1="452.50" x2="357.40" y2="452.50" stroke="#555" stroke-width="1.0"/>
<text transform="translate(349.20,454.00) scale(1.13,1.0)" x="0" y="0" font-size="7" font-weight="bold" text-anchor="start" fill="#333" >***</text>
<line x1="344.20" y1="464.50" x2="349.60" y2="464.50" stroke="#555" stroke-width="1.0"/>
<text transform="translate(342.70,466.00) scale(1.13,1.0)" x="0" y="0" font-size="7" font-weight="bold" text-anchor="start" fill="#333" >***</text>
<line x1="379.00" y1="438.50" x2="400.50" y2="438.50" stroke="#555" stroke-width="1.0"/>
<text transform="translate(379.00,440.00) scale(1.13,1.0)" x="0" y="0" font-size="7" font-weight="bold" text-anchor="start" fill="#333" >****</text>
<line x1="379.00" y1="445.50" x2="394.50" y2="445.50" stroke="#555" stroke-width="1.0"/>
<text transform="translate(379.00,447.00) scale(1.13,1.0)" x="0" y="0" font-size="7" font-weight="bold" text-anchor="start" fill="#333" >****</text>
<line x1="379.00" y1="453.50" x2="387.70" y2="453.50" stroke="#555" stroke-width="1.0"/>
<text transform="translate(379.00,455.00) scale(1.13,1.0)" x="0" y="0" font-size="7" font-weight="bold" text-anchor="start" fill="#333" >***</text>
<line x1="376.00" y1="464.50" x2="383.00" y2="464.50" stroke="#555" stroke-width="1.0"/>
<text transform="translate(374.50,466.00) scale(1.13,1.0)" x="0" y="0" font-size="7" font-weight="bold" text-anchor="start" fill="#333" >***</text>
<line x1="407.00" y1="425.50" x2="411.90" y2="425.50" stroke="#555" stroke-width="1.0"/>
<text transform="translate(404.00,426.00) scale(1.13,1.0)" x="0" y="0" font-size="7" font-weight="bold" text-anchor="start" fill="#333" >****</text>
<line x1="439.70" y1="425.50" x2="445.50" y2="425.50" stroke="#555" stroke-width="1.0"/>
<text transform="translate(436.70,426.00) scale(1.13,1.0)" x="0" y="0" font-size="7" font-weight="bold" text-anchor="start" fill="#333" >****</text>
<line x1="471.60" y1="425.50" x2="479.00" y2="425.50" stroke="#555" stroke-width="1.0"/>
<text transform="translate(468.60,426.00) scale(1.13,1.0)" x="0" y="0" font-size="7" font-weight="bold" text-anchor="start" fill="#333" >***</text>
<rect x="501.30" y="404.70" width="13.80" height="5.40" fill="#f7b98a" stroke="#3a3a3a" stroke-width="1.1"/>
<text x="521.50" y="412.60" font-size="12" font-weight="bold" text-anchor="start" fill="#111" textLength="23.00" lengthAdjust="spacingAndGlyphs" >DCT</text>
<rect x="501.30" y="421.65" width="13.80" height="5.40" fill="#f4f8d8" stroke="#3a3a3a" stroke-width="1.1"/>
<text x="521.50" y="429.55" font-size="12" font-weight="bold" text-anchor="start" fill="#111" textLength="22.00" lengthAdjust="spacingAndGlyphs" >PCT</text>
<rect x="501.30" y="438.60" width="13.80" height="5.40" fill="#ee7a1e" stroke="#3a3a3a" stroke-width="1.1"/>
<text x="521.50" y="446.50" font-size="12" font-weight="bold" text-anchor="start" fill="#111" textLength="20.00" lengthAdjust="spacingAndGlyphs" >SSB</text>
<rect x="501.30" y="455.55" width="13.80" height="5.40" fill="#f8f000" stroke="#3a3a3a" stroke-width="1.1"/>
<text x="521.50" y="463.45" font-size="12" font-weight="bold" text-anchor="start" fill="#111" textLength="21.00" lengthAdjust="spacingAndGlyphs" >CSB</text>
<rect x="501.30" y="472.50" width="13.80" height="5.40" fill="#ec5e1a" stroke="#3a3a3a" stroke-width="1.1"/>
<text x="521.50" y="480.40" font-size="12" font-weight="bold" text-anchor="start" fill="#111" textLength="14.50" lengthAdjust="spacingAndGlyphs" >RV</text>
</svg>
</body></html>
